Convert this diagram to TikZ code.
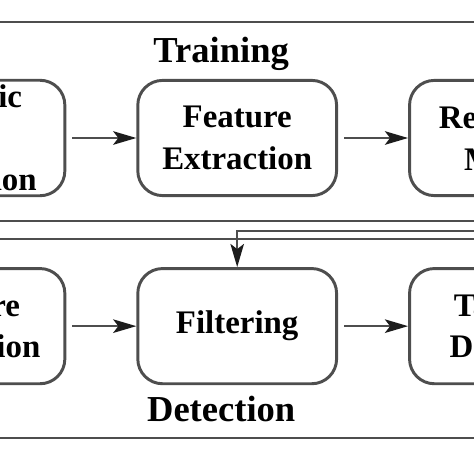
\documentclass[tikz,border=0pt]{standalone}
\usepackage{fontspec}
\setmainfont{Liberation Serif}[BoldFont={Liberation Serif Bold}]
\usetikzlibrary{arrows.meta,positioning}
\definecolor{FrameGray}{HTML}{4E4E4E}
\definecolor{HeadBlack}{HTML}{1C1C1C}

\begin{document}
\begin{tikzpicture}[
  >={Stealth[length=5.8mm,width=3.4mm,inset=1.3mm,color=HeadBlack]},
  node distance=1.75cm,
  stage/.style={draw=FrameGray,line width=2.1pt,rounded corners=0.62cm,
    minimum width=4.97cm,minimum height=2.88cm,align=center,
    font=\fontsize{23.4}{29.5}\selectfont\bfseries},
  flow/.style={->,draw=FrameGray,line width=1.25pt},
  feedback/.style={->,draw=FrameGray,line width=1pt},
  phase frame/.style={draw=FrameGray,line width=1pt},
  phase label/.style={font=\fontsize{26}{30}\selectfont\bfseries}
]

% The figure is a crop of a wider one, so the outer boxes run off the page.
\useasboundingbox (0,0) rectangle (11.85,11.85);
\clip (0,0) rectangle (11.85,11.85);

% Phase frames.
\draw[phase frame] (-1,11.30) rectangle (13,6.33);
\draw[phase frame] (-1,5.88) rectangle (13,0.90);

% Training row.
\node[stage] (feat) at (5.93,8.40) {Feature\\Extraction};
\node[stage,left=of feat] (hist) {Historic\\Data\\Collection};
\node[stage,right=of feat] (ref) {Reference\\Model};

% Detection row.
\node[stage,below=of feat] (filter) {Filtering};
\node[stage,left=of filter] (fext) {Feature\\Extraction};
\node[stage,right=of filter] (decide) {Tamper\\Decision};

\node[phase label,anchor=base] (trainlabel) at (5.53,10.28) {Training};
\node[phase label,anchor=base] (detectlabel) at (5.53,1.32) {Detection};

% Arrows.
\draw[flow,shorten <=0.15cm] (hist) -- (feat);
\draw[flow,shorten <=0.15cm] (feat) -- (ref);
\draw[flow,shorten <=0.15cm] (fext) -- (filter);
\draw[flow,shorten <=0.15cm] (filter) -- (decide);

% Model fed back into the filter.
\coordinate (fbturn) at ([yshift=0.90cm]filter.north);
\draw[feedback] (ref.east) -- ++(0.4,0) |- (fbturn) -- (filter.north);

\end{tikzpicture}
\end{document}
